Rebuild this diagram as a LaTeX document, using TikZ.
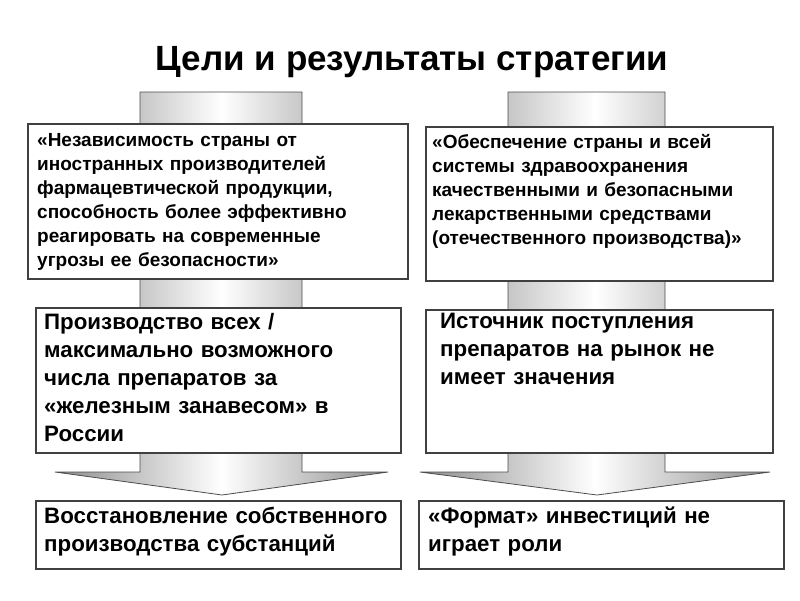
\documentclass[tikz,border=0pt]{standalone}
\usepackage{fontspec}
\setmainfont{Liberation Sans}
\begin{document}
\begin{tikzpicture}[x=1pt,y=-1pt,
  box/.style={draw=black!75,line width=1.6pt,fill=white},
  txt/.style={anchor=north west,align=left,inner sep=0pt,font=\bfseries},
  bar/.style={left color=black!45,right color=black!45,middle color=white,draw=black!70,line width=0.8pt}]
\useasboundingbox (0,0) rectangle (800,600);
\node (title) at (412,62) {\fontsize{35}{40}\selectfont\bfseries Цели и результаты стратегии};
\path[bar] (140,92) -- (302,92) -- (302,472) -- (388,472) -- (222,495) -- (55,472) -- (140,472) -- cycle;
\path[bar] (508,92) -- (665,92) -- (665,472) -- (770,472) -- (597,495) -- (420,472) -- (508,472) -- cycle;
\node[box,minimum width=380,minimum height=155,anchor=north west] (b1) at (27,123) {};
\node[txt,text width=370,font=\fontsize{19}{24}\selectfont\bfseries] (t1) at (37,133) {«Независимость страны от\\иностранных производителей\\фармацевтической продукции,\\способность более эффективно\\реагировать на современные\\угрозы ее безопасности»};
\node[box,minimum width=365,minimum height=145,anchor=north west] (b2) at (35,307) {};
\node[txt,text width=360,font=\fontsize{22.3}{28}\selectfont\bfseries] (t2) at (44,313) {Производство всех /\\максимально возможного\\числа препаратов за\\«железным занавесом» в\\России};
\node[box,minimum width=365,minimum height=68,anchor=north west] (b3) at (35,500) {};
\node[txt,text width=360,font=\fontsize{22.3}{28}\selectfont\bfseries] (t3) at (44,507) {Восстановление собственного\\производства субстанций};
\node[box,minimum width=347,minimum height=154,anchor=north west] (r1) at (425,126) {};
\node[txt,text width=340,font=\fontsize{19}{24}\selectfont\bfseries] (u1) at (432,134) {«Обеспечение страны и всей\\системы здравоохранения\\качественными и безопасными\\лекарственными средствами\\(отечественного производства)»};
\node[box,minimum width=347,minimum height=143,anchor=north west] (r2) at (425,309) {};
\node[txt,text width=330,font=\fontsize{22.3}{28}\selectfont\bfseries] (u2) at (440,313) {Источник поступления\\препаратов на рынок не\\имеет значения};
\node[box,minimum width=365,minimum height=68,anchor=north west] (r3) at (418,500) {};
\node[txt,text width=360,font=\fontsize{22.3}{28}\selectfont\bfseries] (u3) at (428,507) {«Формат» инвестиций не\\играет роли};
\end{tikzpicture}
\end{document}
